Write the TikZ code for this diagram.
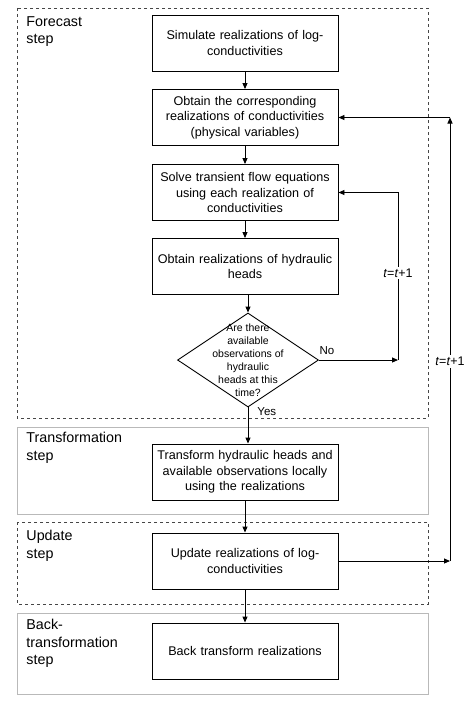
\documentclass[tikz,border=0pt]{standalone}
\usepackage{fontspec}
\setmainfont{Liberation Sans}
\usetikzlibrary{shapes.geometric,arrows.meta}
\definecolor{framegray}{RGB}{185,185,185}
\definecolor{dashgray}{RGB}{70,70,70}
\begin{document}
\begin{tikzpicture}[x=1pt, y=-1pt, line width=0.9pt]
\tikzstyle{stepbox}=[draw,rectangle,minimum width=186pt,minimum height=56pt,
  text width=180pt,align=center,inner sep=0pt,font=\fontsize{12.6}{15.7}\selectfont]
\tikzstyle{decision}=[draw,diamond,minimum width=141pt,minimum height=94pt,inner sep=0pt]
\tikzstyle{arrow}=[-{Triangle[length=6pt,width=5pt]}]
\tikzstyle{framelabel}=[anchor=north west,align=left,inner sep=0pt,font=\fontsize{14.3}{17.5}\selectfont]
\tikzstyle{looplabel}=[fill=white,inner sep=2pt,font=\fontsize{12.5}{14}\selectfont]
\tikzstyle{answer}=[font=\fontsize{11.5}{13}\selectfont,inner sep=1pt]
\useasboundingbox (0,0) rectangle (474,706);
  % frames of the four steps
  \draw[dashgray,dashed,line width=0.8pt] (17,8) rectangle (428,418);
  \draw[framegray,line width=1pt] (17,427) rectangle (428,514);
  \draw[dashgray,dashed,line width=0.8pt] (17,522) rectangle (428,604);
  \draw[framegray,line width=1pt] (17,613) rectangle (428,694);
  \foreach \place/\name/\txt in {{(26,16)/fstep/{Forecast\\step}},
                                 {(26,432)/tstep/{Transformation\\step}},
                                 {(26,530)/ustep/{Update\\step}},
                                 {(26,619)/bstep/{Back-\\transformation\\step}}}
    \node[framelabel] (\name) at \place {\txt};
  % boxes
  \foreach \place/\name/\txt in {{(245,43)/sim/{Simulate realizations of log-\\conductivities}},
                                 {(245,117.5)/cond/{Obtain the corresponding\\realizations of conductivities\\(physical variables)}},
                                 {(245,192.5)/solve/{Solve transient flow equations\\using each realization of\\conductivities}},
                                 {(245,266.5)/heads/{Obtain realizations of hydraulic\\heads}},
                                 {(245,472)/trans/{Transform hydraulic heads and\\available observations locally\\using the realizations}},
                                 {(245,561)/upd/{Update realizations of log-\\conductivities}},
                                 {(245,651)/back/{Back transform realizations}}}
    \node[stepbox] (\name) at \place {\txt};
  \node[decision,label={[align=center,font=\fontsize{10.5}{13}\selectfont]center:Are there\\available\\observations of\\hydraulic\\heads at this\\time?}] (obs) at (248,360) {};
  \foreach \source/\dest in {sim/cond,cond/solve,solve/heads,trans/upd,upd/back}
      \draw[arrow] (\source) -- (\dest);
  \draw[arrow] (heads.south -| obs.north) -- (obs.north);
  \draw[arrow] (obs.south) -- node[answer,pos=0.12,right,xshift=8pt] {Yes} (trans.north -| obs.south);
  % time loops
  \coordinate (inner) at (398,0);
  \coordinate (outer) at (450,0);
  \draw[arrow] (obs.east) -- node[answer,pos=0.1,above,yshift=4pt] {No} (obs.east -| inner);
  \draw[arrow] (obs.east -| inner) -- node[looplabel,pos=0.52] {\textit{t}=\textit{t}+1} (solve.east -| inner) -- (solve.east);
  \draw[arrow] (upd.east) -- (upd.east -| outer);
  \draw[arrow] (upd.east -| outer) -- node[looplabel,pos=0.45] {\textit{t}=\textit{t}+1} (cond.east -| outer);
  \draw[arrow] (cond.east -| outer) -- (cond.east);
\end{tikzpicture}
\end{document}
